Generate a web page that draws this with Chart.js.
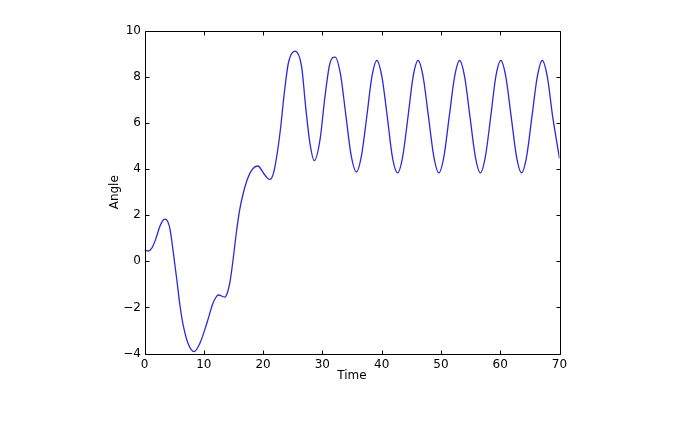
<!DOCTYPE html>
<html lang="en">
<head>
  <meta charset="UTF-8">
  <title>Angle vs Time</title>
  <script src="https://cdn.jsdelivr.net/npm/chart.js"></script>
  <style>
    * {
      margin: 0;
      padding: 0;
      box-sizing: border-box;
    }

    body {
      background-color: #ffffff;
      width: 700px;
      height: 424px;
      overflow: hidden;
    }

    #angle-chart {
      display: block;
    }
  </style>
</head>
<body>
  <canvas id="angle-chart" width="700" height="424"></canvas>

  <script>
    // values
    const times = [
      0, 0.65, 1.2, 1.8, 2.6, 3.0, 3.45, 3.9, 4.3, 4.85, 5.45, 6.0, 6.55, 7.4, 8.35, 9.35,
      10.5, 11.5, 12.0, 12.45, 13.55, 14.0, 14.45, 15.0, 15.55, 16.1, 16.7, 17.4, 18.2,
      19.1, 20.3, 21.1, 21.6, 22.0, 22.85, 23.58, 24.26, 25.38, 26.5, 27.18, 27.9, 28.64,
      29.6, 30.44, 31.28, 32.15,
      33.05, 33.95, 34.85, 35.75, 36.6, 37.5, 38.35, 39.2,
      40.05, 40.95, 41.8, 42.7, 43.55, 44.45, 45.3, 46.15,
      47.0, 47.9, 48.8, 49.65, 50.5, 51.4, 52.3, 53.15,
      54.0, 54.9, 55.8, 56.65, 57.5, 58.4, 59.25, 60.1,
      60.95, 61.85, 62.75, 63.6, 64.45, 65.35, 66.25, 67.1,
      67.95, 68.85, 70
    ];
    const angles = [
      0.5, 0.45, 0.56, 0.9, 1.52, 1.74, 1.83, 1.74, 1.4, 0.4, -0.8, -1.95, -2.8, -3.6, -3.92, -3.55,
      -2.7, -1.85, -1.58, -1.46, -1.55, -1.35, -0.85, 0.2, 1.36, 2.3, 3.0, 3.6, 4.0,
      4.14, 3.75, 3.55, 3.7, 4.1, 5.56, 7.3, 8.6, 9.13, 8.45, 6.72, 5.13, 4.37,
      5.27, 7.15, 8.6, 8.87,
      8.14, 6.37, 4.61, 3.88, 4.59, 6.3, 8.01, 8.72,
      8.01, 6.28, 4.55, 3.84, 4.55, 6.28, 8.01, 8.72,
      8.01, 6.28, 4.55, 3.84, 4.55, 6.28, 8.01, 8.72,
      8.01, 6.28, 4.55, 3.84, 4.55, 6.28, 8.01, 8.72,
      8.01, 6.28, 4.55, 3.84, 4.55, 6.28, 8.01, 8.72,
      8.01, 6.28, 4.47
    ];
    const xTicks = [0, 10, 20, 30, 40, 50, 60, 70];
    const yTicks = [-4, -2, 0, 2, 4, 6, 8, 10];

    const points = times.map((t, i) => ({ x: t, y: angles[i] }));
    const minus = v => String(v).replace('-', '\u2212');

    // box round the plot with inward ticks on all four sides
    const framePlugin = {
      id: 'frame',
      afterDraw(chart) {
        const { ctx, chartArea: ca, scales } = chart;
        const L = Math.round(ca.left) + 0.5, R = Math.round(ca.right) + 0.5;
        const T = Math.round(ca.top) + 0.5, B = Math.round(ca.bottom) + 0.5;
        ctx.save();
        ctx.strokeStyle = '#000';
        ctx.lineWidth = 1;
        ctx.beginPath();
        ctx.rect(L, T, R - L, B - T);
        xTicks.forEach(v => {
          const px = Math.round(scales.x.getPixelForValue(v)) + 0.5;
          ctx.moveTo(px, B); ctx.lineTo(px, B - 4);
          ctx.moveTo(px, T); ctx.lineTo(px, T + 4);
        });
        yTicks.forEach(v => {
          const py = Math.round(scales.y.getPixelForValue(v)) + 0.5;
          ctx.moveTo(L, py); ctx.lineTo(L + 4, py);
          ctx.moveTo(R, py); ctx.lineTo(R - 4, py);
        });
        ctx.stroke();
        ctx.restore();
      }
    };

    const font = { family: '"DejaVu Sans", sans-serif', size: 12 };

    new Chart(document.getElementById('angle-chart'), {
      type: 'line',
      data: {
        datasets: [{
          data: points,
          borderColor: 'rgb(40, 40, 225)',
          borderWidth: 1.3,
          pointRadius: 0,
          fill: false,
          cubicInterpolationMode: 'monotone'
        }]
      },
      options: {
        responsive: false,
        animation: false,
        layout: { padding: { left: 0, right: 140.5, top: 31, bottom: 0 } },
        plugins: {
          legend: { display: false },
          tooltip: { enabled: false }
        },
        scales: {
          x: {
            type: 'linear',
            min: 0,
            max: 70,
            afterBuildTicks: s => { s.ticks = xTicks.map(v => ({ value: v })); },
            afterFit: s => { s.height = 70.5; },
            grid: { display: false, drawTicks: false },
            border: { display: false },
            ticks: { color: '#000', font, padding: 4, maxRotation: 0, callback: minus },
            title: { display: true, text: 'Time', color: '#000', font, padding: { top: 0, bottom: 41 } }
          },
          y: {
            min: -4,
            max: 10,
            afterBuildTicks: s => { s.ticks = yTicks.map(v => ({ value: v })); },
            afterFit: s => { s.width = 144.5; },
            grid: { display: false, drawTicks: false },
            border: { display: false },
            ticks: { color: '#000', font, padding: 3.5, callback: minus },
            title: { display: true, text: 'Angle', color: '#000', font, padding: { top: 108, bottom: 0 } }
          }
        }
      },
      plugins: [framePlugin]
    });
  </script>
</body>
</html>
